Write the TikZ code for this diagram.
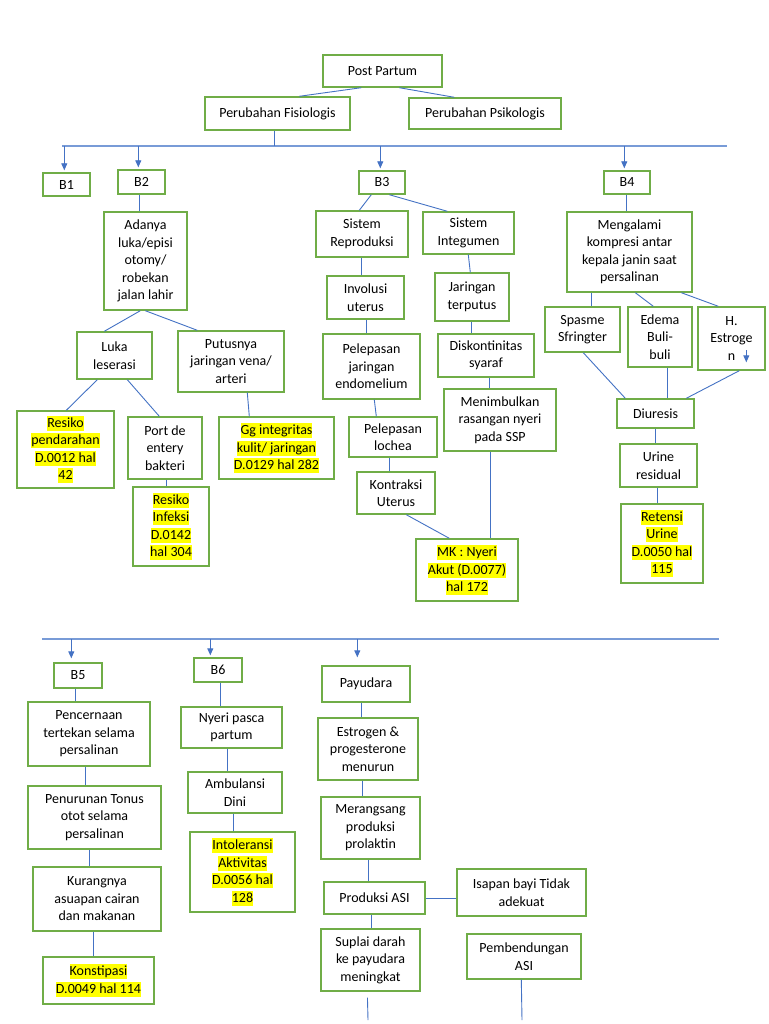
\documentclass[tikz,border=0pt]{standalone}
\usepackage{fontspec}
\setmainfont{Carlito}
\usetikzlibrary{arrows.meta}
\definecolor{boxgreen}{RGB}{112,173,71}
\definecolor{lnblue}{RGB}{68,114,196}
\definecolor{busblue}{RGB}{120,155,215}
\definecolor{hly}{RGB}{255,255,0}
\newcommand{\fs}{\fontsize{14}{17.5}\selectfont}
\newcommand{\hl}[1]{{\setlength{\fboxsep}{0pt}\colorbox{hly}{\rule[-3.5pt]{0pt}{15pt}#1}}}
\newcommand{\bx}[6]{%
  \pgfmathsetmacro{\bxcx}{(#2+#4)/2}\pgfmathsetmacro{\bxcy}{(#3+#5)/2}%
  \pgfmathsetmacro{\bxw}{#4-#2}\pgfmathsetmacro{\bxh}{#5-#3}%
  \node[box,minimum width=\bxw pt,minimum height=\bxh pt] (#1) at (\bxcx,\bxcy) {#6};}
\newcommand{\cn}[4]{\draw[ln] ([xshift=#2pt]#1.south west) -- ([xshift=#4pt]#3.north west);}
\tikzset{
  box/.style={draw=boxgreen, line width=1.4pt, fill=white, inner sep=0pt, align=center, font=\fs, text=black},
  ln/.style={draw=lnblue, line width=0.9pt},
  bus/.style={draw=busblue, line width=1.4pt},
  arr/.style={draw=lnblue, line width=0.9pt, -{Triangle[length=7pt,width=6pt]}, fill=lnblue, shorten >=2pt},
}
\begin{document}
\begin{tikzpicture}[x=1pt,y=-1pt]
\path[fill=white] (0,0) rectangle (768,1024);
\useasboundingbox (0,0) rectangle (768,1024);

% ---------- top ----------
\bx{pp}{323}{55}{442}{87}{Post Partum}
\bx{fis}{205}{97}{350}{130}{Perubahan Fisiologis}
\bx{psi}{409}{98}{561}{129}{Perubahan Psikologis}
\bx{b1}{43}{173}{90}{196}{B1}
\bx{b2}{118}{170}{165}{194}{B2}
\bx{b3}{359}{171}{405}{194}{B3}
\bx{b4}{604}{171}{650}{194}{B4}

% B2 column
\bx{ada}{104}{212}{187}{310}{Adanya\\luka/episi\\otomy/\\robekan\\jalan lahir}
\bx{luka}{77}{332}{152}{379}{Luka\\leserasi}
\bx{put}{178}{331}{284}{392}{Putusnya\\jaringan vena/\\arteri}
\bx{rp}{17}{411}{114}{488}{\hl{Resiko}\\\hl{pendarahan}\\\hl{D.0012 hal}\\\hl{42}}
\bx{port}{128}{417}{202}{479}{Port de\\entery\\bakteri}
\bx{ri}{133}{487}{209}{566}{\hl{Resiko}\\\hl{Infeksi}\\\hl{D.0142}\\\hl{hal 304}}
\bx{gg}{219}{417}{334}{479}{\hl{Gg integritas}\\\hl{kulit/ jaringan}\\\hl{D.0129 hal 282}}

% B3 column
\bx{rep}{316}{211}{408}{257}{Sistem\\Reproduksi}
\bx{int}{423}{212}{514}{254}{Sistem\\Integumen}
\bx{inv}{327}{276}{404}{319}{Involusi\\uterus}
\bx{jar}{435}{273}{509}{321}{Jaringan\\terputus}
\bx{endo}{323}{334}{420}{399}{Pelepasan\\jaringan\\endomelium}
\bx{disk}{438}{334}{534}{377}{Diskontinitas\\syaraf}
\bx{men}{444}{389}{556}{451}{Menimbulkan\\rasangan nyeri\\pada SSP}
\bx{loc}{349}{417}{437}{457}{Pelepasan\\lochea}
\bx{kon}{357}{472}{435}{514}{Kontraksi\\Uterus}
\bx{mk}{416}{539}{518}{601}{\hl{MK : Nyeri}\\\hl{Akut (D.0077)}\\\hl{hal 172}}

% B4 column
\bx{meng}{567}{212}{692}{292}{Mengalami\\kompresi antar\\kepala janin saat\\persalinan}
\bx{spa}{545}{307}{620}{352}{Spasme\\Sfringter}
\bx{ede}{628}{307}{692}{367}{Edema\\Buli-\\buli}
\bx{hest}{698}{307}{765}{370}{H.\\Estroge\\n}
\bx{diu}{617}{399}{694}{428}{Diuresis}
\bx{uri}{620}{444}{697}{487}{Urine\\residual}
\bx{ret}{621}{504}{703}{583}{\hl{Retensi}\\\hl{Urine}\\\hl{D.0050 hal}\\\hl{115}}

% ---------- bottom ----------
\bx{b5}{54}{663}{102}{688}{B5}
\bx{b6}{194}{658}{242}{682}{B6}
\bx{penc}{28}{702}{150}{766}{Pencernaan\\tertekan selama\\persalinan}
\bx{penu}{28}{786}{161}{849}{Penurunan Tonus\\otot selama\\persalinan}
\bx{kur}{33}{867}{161}{931}{Kurangnya\\asuapan cairan\\dan makanan}
\bx{kons}{43}{957}{154}{1004}{\hl{Konstipasi}\\\hl{D.0049 hal 114}}
\bx{nye}{181}{707}{282}{748}{Nyeri pasca\\partum}
\bx{amb}{188}{772}{282}{813}{Ambulansi\\Dini}
\bx{into}{190}{832}{295}{912}{\hl{Intoleransi}\\\hl{Aktivitas}\\\hl{D.0056 hal}\\\hl{128}}
\bx{pay}{322}{666}{410}{702}{Payudara}
\bx{est}{318}{718}{418}{780}{Estrogen \&\\progesterone\\menurun}
\bx{mer}{321}{797}{420}{859}{Merangsang\\produksi\\prolaktin}
\bx{pro}{324}{882}{425}{914}{Produksi ASI}
\bx{isa}{457}{869}{586}{916}{Isapan bayi Tidak\\adekuat}
\bx{sup}{321}{929}{420}{991}{Suplai darah\\ke payudara\\meningkat}
\bx{pem}{467}{934}{581}{979}{Pembendungan\\ASI}

% ---------- connectors: top ----------
\cn{pp}{39}{fis}{95}
\cn{pp}{77}{psi}{46}
\coordinate (busA) at (62,146);
\coordinate (busB) at (727,146);
\draw[bus] (busA) -- (busB);
\coordinate (f1) at ([xshift=70pt]fis.south west);
\draw[ln] (f1) -- (f1 |- busA);
\coordinate (a1) at ([xshift=22pt]b1.north west);
\coordinate (a2) at ([xshift=21pt]b2.north west);
\coordinate (a3) at ([xshift=22pt]b3.north west);
\coordinate (a4) at ([xshift=21pt]b4.north west);
\draw[arr] (a1 |- busA) -- (a1);
\draw[arr] (a2 |- busA) -- (a2);
\draw[arr] (a3 |- busA) -- (a3);
\draw[arr] (a4 |- busA) -- (a4);

% B2
\cn{b2}{22}{ada}{36}
\cn{ada}{37}{luka}{28}
\cn{ada}{42}{put}{20}
\cn{luka}{21}{rp}{50}
\cn{luka}{51}{port}{32}
\cn{port}{39}{ri}{34}
\cn{put}{70}{gg}{31}

% B3
\cn{b3}{13}{rep}{44}
\cn{b3}{31}{int}{25}
\cn{rep}{46}{inv}{35}
\cn{int}{46}{jar}{36}
\cn{inv}{40}{endo}{44}
\cn{jar}{37}{disk}{34}
\cn{endo}{52}{loc}{28}
\cn{disk}{52}{men}{46}
\cn{loc}{41}{kon}{33}
\cn{kon}{50}{mk}{34}
\cn{men}{47}{mk}{75}

% B4
\cn{b4}{23}{meng}{60}
\cn{meng}{25}{spa}{47}
\cn{meng}{69}{ede}{26}
\cn{meng}{115}{hest}{21}
\cn{spa}{39}{diu}{9}
\cn{ede}{40}{diu}{51}
\cn{hest}{42}{diu}{70}
\cn{diu}{39}{uri}{36}
\cn{uri}{38}{ret}{37}
\draw[arr,shorten >=0pt] ([xshift=49pt,yshift=-44pt]hest.north west) -- ([xshift=49pt,yshift=-56pt]hest.north west);

% ---------- connectors: bottom ----------
\coordinate (busC) at (42,639);
\coordinate (busD) at (719,639);
\draw[bus] (busC) -- (busD);
\coordinate (a5) at ([xshift=18pt]b5.north west);
\coordinate (a6) at ([xshift=17pt]b6.north west);
\coordinate (a7) at ([xshift=36pt]pay.north west);
\draw[arr,shorten >=4pt] (a5 |- busC) -- (a5);
\draw[arr] (a6 |- busC) -- (a6);
\draw[arr,shorten >=8pt] (a7 |- busC) -- (a7);

\cn{b5}{22}{penc}{48}
\cn{penc}{58}{penu}{58}
\cn{penu}{62}{kur}{57}
\cn{kur}{61}{kons}{51}
\cn{b6}{27}{nye}{40}
\cn{nye}{47}{amb}{40}
\cn{amb}{46}{into}{44}
\cn{pay}{40}{est}{44}
\cn{est}{45}{mer}{42}
\cn{mer}{48}{pro}{45}
\cn{pro}{48}{sup}{51}
\draw[ln] (pro.east) -- (pro.east -| isa.west);
\coordinate (s1) at ([xshift=47pt]sup.south west);
\coordinate (s2) at (368,1020);
\draw[ln, shorten <=6pt] (s1) -- (s2);
\coordinate (p1) at ([xshift=55pt]pem.south west);
\coordinate (p2) at (522,1020);
\draw[ln] (p1) -- (p2);
\end{tikzpicture}
\end{document}
